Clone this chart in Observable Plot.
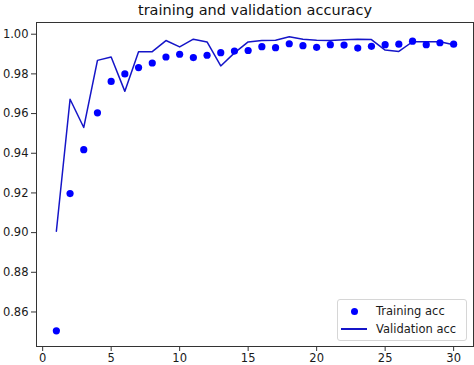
<!DOCTYPE html>
<html>
<head>
<meta charset="utf-8">
<script src="https://cdn.jsdelivr.net/npm/d3@7"></script>
<script src="https://cdn.jsdelivr.net/npm/@observablehq/plot@0.6"></script>
<style>
  html, body { margin: 0; padding: 0; background: #fff; }
  #wrap { position: relative; width: 474px; height: 365px; overflow: hidden; font-family: "DejaVu Sans", sans-serif; }
  #legend { position: absolute; left: 337px; top: 299px; width: 128px; height: 40px;
    border: 1px solid #d6d6d6; border-radius: 3px; background: rgba(255,255,255,0.85);
    font-size: 11.5px; color: #1a1a1a; }
  .row { position: absolute; left: 0; height: 14px; line-height: 14px; }
  .row span.lbl { position: absolute; left: 38px; white-space: nowrap; }
  .dot { position: absolute; left: 13px; top: 3.5px; width: 7px; height: 7px; border-radius: 50%; background: #0000ff; }
  .ln { position: absolute; left: 3px; top: 6px; width: 26px; height: 1.5px; background: #1515c8; }
</style>
</head>
<body>
<div id="wrap"></div>
<script>
const epochs = [1,2,3,4,5,6,7,8,9,10,11,12,13,14,15,16,17,18,19,20,21,22,23,24,25,26,27,28,29,30];
const trainAcc = [0.8505,0.9197,0.9418,0.9604,0.9762,0.9800,0.9832,0.9855,0.9885,0.9899,0.9882,0.9894,0.9907,0.9915,0.9918,0.9937,0.9932,0.9952,0.9942,0.9934,0.9947,0.9945,0.9930,0.9939,0.9947,0.9950,0.9965,0.9947,0.9957,0.9950];
const valAcc = [0.9007,0.9672,0.9530,0.9868,0.9885,0.9712,0.9912,0.9912,0.9968,0.9936,0.9975,0.9961,0.9840,0.9906,0.9961,0.9968,0.9970,0.9987,0.9975,0.9970,0.9968,0.9972,0.9975,0.9973,0.9920,0.9913,0.9962,0.9962,0.9962,0.9947];
const xTicks = [0,5,10,15,20,25,30];
const yTicks = [0.86,0.88,0.90,0.92,0.94,0.96,0.98,1.00];
const titleText = "training and validation accuracy";
const seriesNames = ["Training acc", "Validation acc"];

const train = epochs.map((e, i) => ({epoch: e, acc: trainAcc[i]}));
const val = epochs.map((e, i) => ({epoch: e, acc: valAcc[i]}));

const chart = Plot.plot({
  width: 474,
  height: 365,
  marginTop: 22,
  marginLeft: 36,
  marginRight: 1,
  marginBottom: 19,
  style: {fontFamily: "DejaVu Sans, sans-serif", fontSize: "11.5px", color: "#1a1a1a", background: "#fff"},
  x: {domain: [-0.45, 31.45]},
  y: {domain: [0.8426, 1.0059]},
  marks: [
    Plot.axisX(xTicks, {tickSize: 5, tickPadding: 2, stroke: "#333", fontSize: 11.5, label: null, fill: "#1a1a1a"}),
    Plot.axisY(yTicks, {tickSize: 5, tickPadding: 3, stroke: "#333", fontSize: 11.5, label: null, tickFormat: ".2f", fill: "#1a1a1a"}),
    Plot.line(val, {x: "epoch", y: "acc", stroke: "#1515c8", strokeWidth: 1.5}),
    Plot.dot(train, {x: "epoch", y: "acc", r: 3.6, fill: "#0000ff", stroke: "none"}),
    Plot.frame({stroke: "#333", strokeWidth: 1}),
    Plot.text([titleText], {frameAnchor: "top", dy: -8, lineAnchor: "bottom", fontSize: 14.5, fill: "#111"})
  ]
});
const wrap = document.getElementById("wrap");
wrap.appendChild(chart);

const legend = document.createElement("div");
legend.id = "legend";
legend.innerHTML =
  `<div class="row" style="top:4px;width:100%"><div class="dot"></div><span class="lbl">${seriesNames[0]}</span></div>` +
  `<div class="row" style="top:22px;width:100%"><div class="ln"></div><span class="lbl">${seriesNames[1]}</span></div>`;
wrap.appendChild(legend);
</script>
</body>
</html>
